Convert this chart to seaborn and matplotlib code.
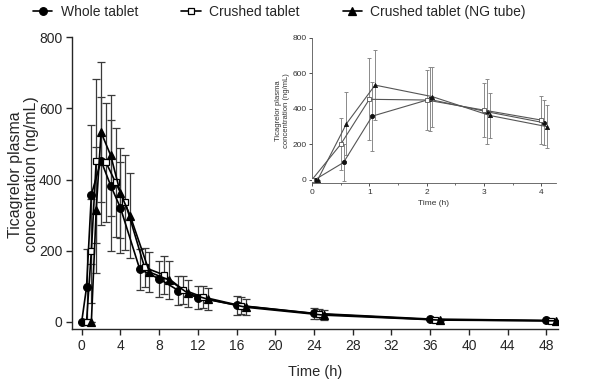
import numpy as np
import pandas as pd
import matplotlib
matplotlib.use("Agg")
import matplotlib.pyplot as plt
from matplotlib.lines import Line2D
from matplotlib.ticker import MultipleLocator
import seaborn as sns

# ---- data ----
times = [0, 0.5, 1, 2, 3, 4, 6, 8, 10, 12, 16, 24, 36, 48]
series_names = ["Whole tablet", "Crushed tablet", "Crushed tablet (NG tube)"]
whole_mean = [0, 97, 358, 453, 383, 321, 148, 121, 88, 68, 47, 24, 8, 4]
whole_sd = [0, 107, 195, 180, 184, 128, 58, 50, 40, 32, 27, 16, 3, 2]
crushed_mean = [0, 199, 453, 449, 392, 336, 153, 132, 90, 70, 45, 22, 6, 3]
crushed_sd = [0, 147, 230, 167, 153, 133, 55, 53, 40, 30, 24, 15, 3, 2]
ng_mean = [0, 315, 533, 468, 362, 299, 140, 118, 80, 64, 41, 19, 5, 3]
ng_sd = [0, 177, 197, 169, 127, 120, 57, 53, 37, 30, 22, 14, 3, 2]
main_offsets = [0.0, 0.5, 1.0]
inset_offsets = [0.05, 0.0, 0.1]
x_ticks = list(range(0, 49, 4))
y_ticks = [0, 200, 400, 600, 800]

sns.set_style("ticks")
plt.rcParams["font.family"] = ["Liberation Sans", "DejaVu Sans"]

means = [whole_mean, crushed_mean, ng_mean]
sds = [whole_sd, crushed_sd, ng_sd]
markers = ["o", "s", "^"]
msizes = [5.5, 5.0, 5.5]
mfc = ["black", "white", "black"]

rows = []
for name, m, s, off, ioff in zip(series_names, means, sds, main_offsets, inset_offsets):
    for t, mv, sv in zip(times, m, s):
        rows.append(dict(series=name, t=t, x=t + off, xi=t + ioff, mean=mv, sd=sv))
df = pd.DataFrame(rows)

fig = plt.figure(figsize=(6.0, 3.81), dpi=100)
ax = fig.add_axes([0.12, 0.1365, 0.81, 0.7655])

for name in series_names:
    d = df[df.series == name]
    ax.errorbar(d.x, d["mean"], yerr=d.sd, fmt="none", ecolor="#3a3a3a",
                elinewidth=0.9, capsize=2.6, capthick=0.9, zorder=2)
for name, mk, ms, fc in zip(series_names, markers, msizes, mfc):
    d = df[df.series == name]
    sns.lineplot(data=d, x="x", y="mean", ax=ax, color="black", lw=1.2,
                 marker=mk, markersize=ms,
                 markerfacecolor=fc, markeredgecolor="black", markeredgewidth=0.9,
                 legend=False, zorder=3, estimator=None, sort=False)

ax.set_xlim(-1, 49.2)
ax.set_ylim(-20, 800)
ax.set_xticks(x_ticks)
ax.set_yticks(y_ticks)
ax.tick_params(labelsize=10, length=4, width=1, direction="out", pad=3)
ax.set_xlabel("Time (h)", fontsize=10.5, labelpad=9)
ax.set_ylabel("Ticagrelor plasma\nconcentration (ng/mL)", fontsize=11.5, linespacing=1.1)
ax.yaxis.set_label_coords(-0.068, 0.53)
sns.despine(ax=ax)
for sp in ["left", "bottom"]:
    ax.spines[sp].set_linewidth(1.0)

# ---- inset ----
axi = fig.add_axes([0.52, 0.519, 0.406, 0.382])
di = df[df.t <= 4]
for name in series_names:
    d = di[di.series == name]
    axi.errorbar(d.xi, d["mean"], yerr=d.sd, fmt="none", ecolor="#8a8a8a",
                 elinewidth=0.7, capsize=1.5, capthick=0.7, zorder=2)
for name, mk, fc in zip(series_names, markers, mfc):
    d = di[di.series == name]
    sns.lineplot(data=d, x="xi", y="mean", ax=axi, color="#555555", lw=0.8,
                 marker=mk, markersize=3, markerfacecolor=fc if fc == "white" else "#111111",
                 markeredgecolor="#555555" if fc == "white" else "#111111",
                 markeredgewidth=0.6, legend=False, zorder=3, estimator=None, sort=False)
axi.set_xlim(0, 4.25)
axi.set_ylim(-20, 800)
axi.set_xticks([0, 1, 2, 3, 4])
axi.xaxis.set_minor_locator(MultipleLocator(0.5))
axi.set_yticks(y_ticks)
axi.tick_params(labelsize=6, length=2.5, width=0.6, colors="#333333", pad=1.5)
axi.tick_params(which="minor", length=1.5, width=0.6, colors="#555555")
axi.set_xlabel("Time (h)", fontsize=6, color="#333333", labelpad=3)
axi.set_ylabel("Ticagrelor plasma\nconcentration (ng/mL)", fontsize=5.5, color="#333333", labelpad=1.5)
sns.despine(ax=axi)
for sp in ["left", "bottom"]:
    axi.spines[sp].set_linewidth(0.6)
    axi.spines[sp].set_color("#555555")
axi.patch.set_alpha(0)

# ---- legend ----
handles = [Line2D([0], [0], color="black", lw=1.2, marker=mk, markersize=ms,
                  markerfacecolor=fc, markeredgecolor="black", markeredgewidth=0.9)
           for mk, ms, fc in zip(markers, msizes, mfc)]
fig.legend(handles, series_names, loc="center left", bbox_to_anchor=(0.055, 0.968), ncol=3,
           frameon=False, fontsize=10, handlelength=1.4, columnspacing=3.1,
           handletextpad=0.6, borderpad=0, borderaxespad=0)

fig.savefig("out.png", dpi=100)
